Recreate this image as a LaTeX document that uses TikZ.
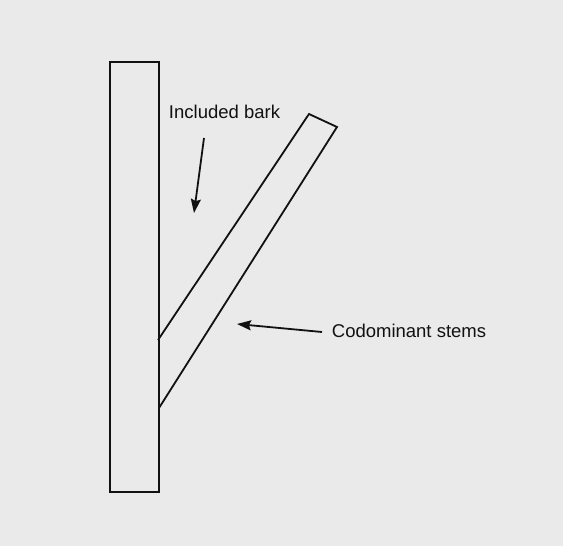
\documentclass[tikz,border=0pt]{standalone}
\usepackage{fontspec}
\setmainfont{Liberation Sans}
\usepackage{xcolor}
\usetikzlibrary{arrows.meta}
\definecolor{paper}{HTML}{EAEAEA}
\definecolor{ink}{HTML}{111111}

\begin{document}
\begin{tikzpicture}[x=1pt, y=-1pt, line width=1.8pt, ink, label node/.style={font=\fontsize{18.5}{22}\selectfont, inner sep=0pt, text=ink}, pointer/.style={-{Stealth[length=14pt,width=10pt,inset=2pt]}, line width=1.8pt}]
\fill[paper] (0,0) rectangle (563,546);
\useasboundingbox (0,0) rectangle (563,546);
\coordinate (t1) at (110,62);
\coordinate (t2) at (159,492);
\coordinate (b1) at (309,114);
\coordinate (b2) at (337,127);
\coordinate (j1) at (158,340);
\coordinate (j2) at (159,408);
\draw (t1) rectangle (t2);
\draw (j1) -- (b1) -- (b2) -- (j2);
\node[label node] (bark) at (224.5,112) {Included bark};
\node[label node, anchor=west] (stems) at (331,331) {Codominant stems};
\coordinate (a1) at (204,138);
\coordinate (p1) at (194,213);
\coordinate (a2) at (322,332);
\coordinate (p2) at (237,324);
\draw[pointer] (a1) -- (p1);
\draw[pointer] (a2) -- (p2);
\end{tikzpicture}
\end{document}
